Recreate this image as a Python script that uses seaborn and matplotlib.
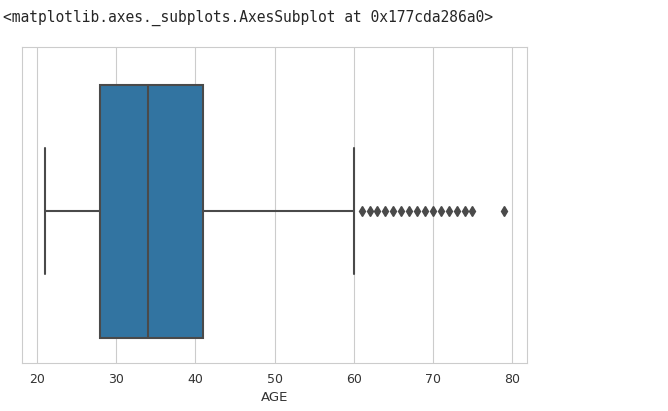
import numpy as np
import pandas as pd
import matplotlib
matplotlib.use("Agg")
import matplotlib.pyplot as plt
import seaborn as sns

ages = [21, 22, 23, 24, 25, 26, 27, 28, 29, 30, 31, 32, 33, 34, 35, 36, 37, 38, 39, 40,
        41, 42, 43, 44, 45, 46, 47, 48, 49, 50, 51, 52, 53, 54, 55, 56, 57, 58, 59, 60,
        61, 62, 63, 64, 65, 66, 67, 68, 69, 70, 71, 72, 73, 74, 75, 79]
counts = [3, 6, 9, 12, 14, 16, 17, 18, 16, 15, 15, 14, 13, 14, 13, 12, 11, 10, 10, 9,
          14, 8, 7, 6, 5, 5, 4, 4, 3, 3, 3, 2, 2, 2, 2, 1, 1, 1, 1, 1,
          1, 1, 1, 1, 1, 1, 1, 1, 1, 1, 1, 1, 1, 1, 1, 1]

df = pd.DataFrame({"AGE": np.repeat(ages, counts)})

sns.set_style("whitegrid")
fig = plt.figure(figsize=(6.68, 4.11), dpi=100)
ax = fig.add_axes([0.033, 0.117, 0.756, 0.769])

sns.boxplot(x="AGE", data=df, ax=ax, color="#1f77b4", saturation=0.75,
            linecolor="#4a4a4a", linewidth=1.5,
            flierprops=dict(marker="d", markersize=5, markerfacecolor="#4a4a4a",
                            markeredgecolor="#4a4a4a"))
ax.set_xlim(18.1, 81.9)
ax.set_ylim(0.48, -0.52)
ax.set_xticks([20, 30, 40, 50, 60, 70, 80])
ax.tick_params(labelsize=9, colors="#333333")
ax.set_xlabel("AGE", fontsize=9.5, color="#333333")

fig.text(0.005, 0.975, "<matplotlib.axes._subplots.AxesSubplot at 0x177cda286a0>",
         family="DejaVu Sans Mono", fontsize=10.5, va="top", ha="left")

fig.savefig("out.png", dpi=100)
